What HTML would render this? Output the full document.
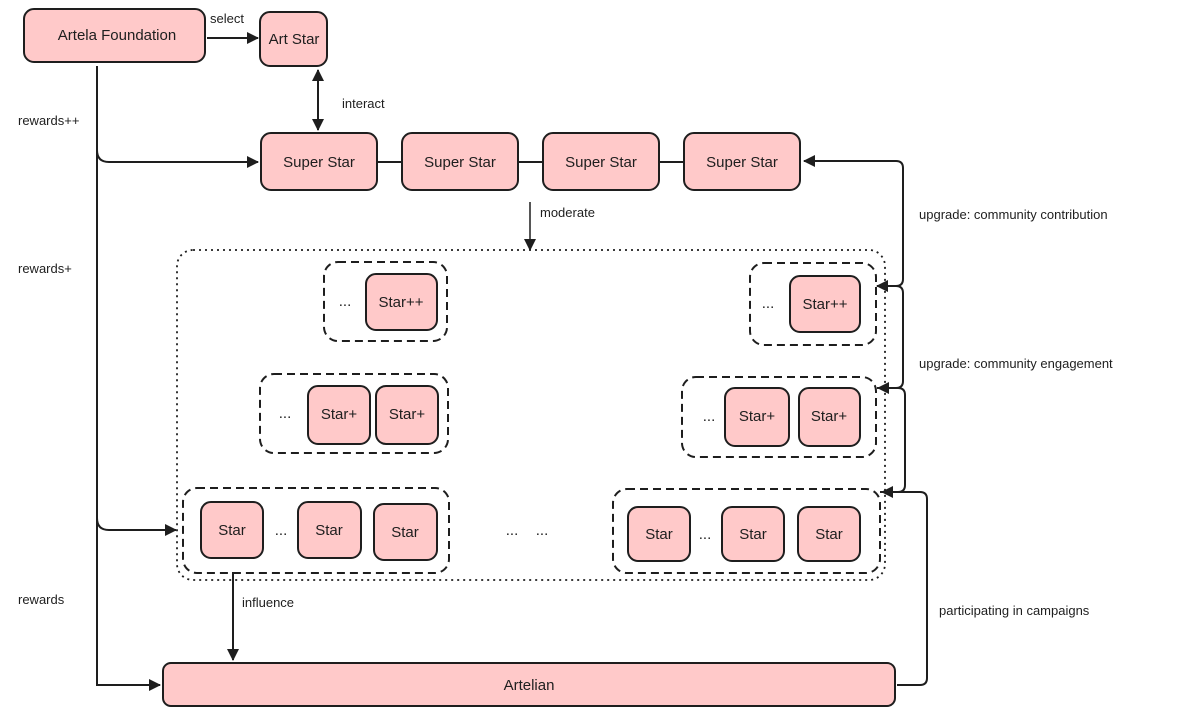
<!DOCTYPE html>
<html><head><meta charset="utf-8"><style>
html,body{margin:0;padding:0;background:#fff;width:1200px;height:715px;overflow:hidden}
text{font-family:"Liberation Sans",sans-serif;fill:#1e1e1e}
</style></head><body>
<svg width="1200" height="715" viewBox="0 0 1200 715" xmlns="http://www.w3.org/2000/svg">
<defs><marker id="a" markerWidth="12" markerHeight="12" refX="11" refY="6" orient="auto" markerUnits="userSpaceOnUse"><path d="M0,0 L12,6 L0,12 z" fill="#1e1e1e"/></marker>
<marker id="as" markerWidth="12" markerHeight="12" refX="1" refY="6" orient="auto" markerUnits="userSpaceOnUse"><path d="M12,0 L0,6 L12,12 z" fill="#1e1e1e"/></marker></defs>
<g stroke="#1e1e1e" stroke-width="2" fill="none">
<path d="M97,66 V685 H160" marker-end="url(#a)"/>
<path d="M97,150 Q97,162 109,162 H258" marker-end="url(#a)"/>
<path d="M97,518 Q97,530 109,530 H176" marker-end="url(#a)"/>
<line x1="207" y1="38" x2="258" y2="38" marker-end="url(#a)"/>
<line x1="318" y1="70" x2="318" y2="130" marker-start="url(#as)" marker-end="url(#a)"/>
<line x1="377" y1="162" x2="402" y2="162"/><line x1="518" y1="162" x2="543" y2="162"/><line x1="659" y1="162" x2="684" y2="162"/>
<line x1="530" y1="202" x2="530" y2="250" stroke-width="1.5" marker-end="url(#a)"/>
<line x1="233" y1="572" x2="233" y2="660" marker-end="url(#a)"/>
<path d="M877,286 H896 Q903,286 903,279 V168 Q903,161 896,161 H804" marker-end="url(#a)"/>
<path d="M877,388 H896 Q903,388 903,381 V293 Q903,286 896,286 H877" marker-end="url(#a)"/>
<path d="M880,492 H898 Q905,492 905,485 V395 Q905,388 898,388 H878" marker-end="url(#a)"/>
<path d="M897,685 H920 Q927,685 927,678 V499 Q927,492 920,492 H882" marker-end="url(#a)"/>
<rect x="177" y="250" width="708" height="330" rx="16" stroke-dasharray="2 4" stroke-width="1.8"/>
<g stroke-dasharray="8 5">
<rect x="324" y="262" width="123" height="79" rx="14"/>
<rect x="260" y="374" width="188" height="79" rx="14"/>
<rect x="183" y="488" width="266" height="85" rx="14"/>
<rect x="750" y="263" width="126" height="82" rx="14"/>
<rect x="682" y="377" width="194" height="80" rx="14"/>
<rect x="613" y="489" width="267" height="84" rx="14"/>
</g>
<g fill="#ffc9c9">
<rect x="24" y="9" width="181" height="53" rx="10"/>
<rect x="260" y="12" width="67" height="54" rx="10"/>
<rect x="261" y="133" width="116" height="57" rx="10"/>
<rect x="402" y="133" width="116" height="57" rx="10"/>
<rect x="543" y="133" width="116" height="57" rx="10"/>
<rect x="684" y="133" width="116" height="57" rx="10"/>
<rect x="366" y="274" width="71" height="56" rx="10"/>
<rect x="308" y="386" width="62" height="58" rx="10"/>
<rect x="376" y="386" width="62" height="58" rx="10"/>
<rect x="201" y="502" width="62" height="56" rx="10"/>
<rect x="298" y="502" width="63" height="56" rx="10"/>
<rect x="374" y="504" width="63" height="56" rx="10"/>
<rect x="790" y="276" width="70" height="56" rx="10"/>
<rect x="725" y="388" width="64" height="58" rx="10"/>
<rect x="799" y="388" width="61" height="58" rx="10"/>
<rect x="628" y="507" width="62" height="54" rx="10"/>
<rect x="722" y="507" width="62" height="54" rx="10"/>
<rect x="798" y="507" width="62" height="54" rx="10"/>
<rect x="163" y="663" width="732" height="43" rx="8"/>
</g></g>
<g font-size="15" text-anchor="middle">
<text x="117" y="40">Artela Foundation</text>
<text x="294" y="44">Art Star</text>
<text x="319" y="167">Super Star</text><text x="460" y="167">Super Star</text><text x="601" y="167">Super Star</text><text x="742" y="167">Super Star</text>
<text x="401" y="307">Star++</text><text x="825" y="309">Star++</text>
<text x="339" y="419">Star+</text><text x="407" y="419">Star+</text><text x="757" y="421">Star+</text><text x="829" y="421">Star+</text>
<text x="232" y="535">Star</text><text x="329" y="535">Star</text><text x="405" y="537">Star</text>
<text x="659" y="539">Star</text><text x="753" y="539">Star</text><text x="829" y="539">Star</text>
<text x="529" y="690">Artelian</text>
<text x="345" y="306">...</text><text x="285" y="418">...</text><text x="281" y="535">...</text><text x="768" y="308">...</text><text x="709" y="421">...</text><text x="705" y="539">...</text>
<text x="512" y="535">...</text><text x="542" y="535">...</text>
</g>
<g font-size="13">
<text x="210" y="23">select</text><text x="342" y="108">interact</text><text x="540" y="217">moderate</text>
<text x="18" y="125">rewards++</text><text x="18" y="273">rewards+</text><text x="18" y="604">rewards</text>
<text x="242" y="607">influence</text>
<text x="919" y="219">upgrade: community contribution</text>
<text x="919" y="368">upgrade: community engagement</text>
<text x="939" y="615">participating in campaigns</text>
</g>
</svg>
</body></html>
